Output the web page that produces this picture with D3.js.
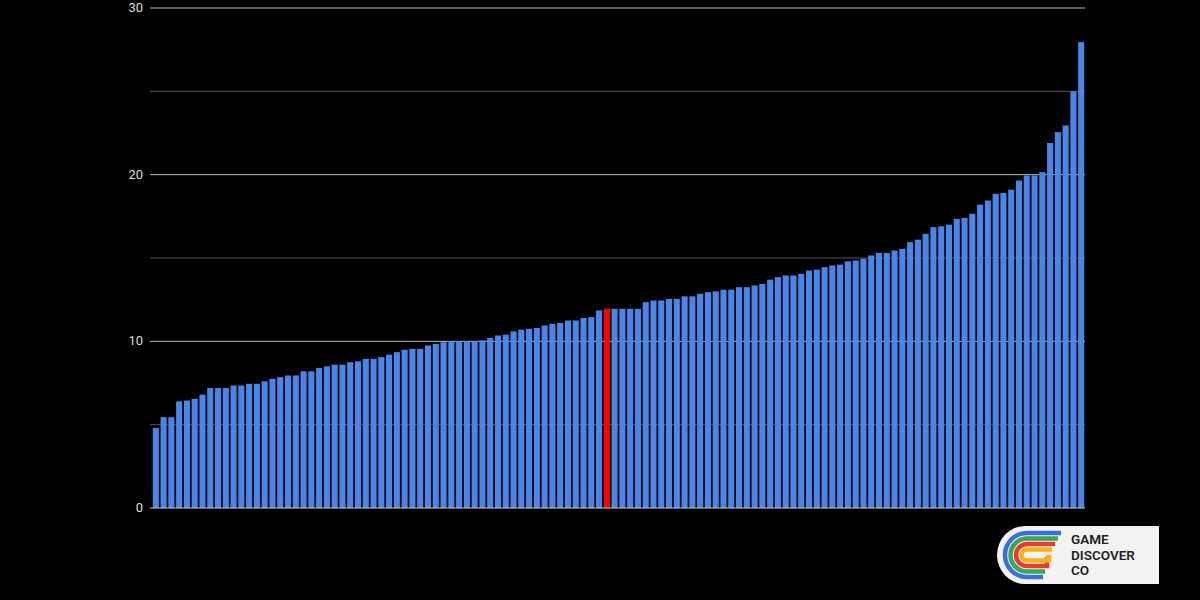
<!DOCTYPE html>
<html>
<head>
<meta charset="utf-8">
<title>Chart</title>
<script src="https://cdn.jsdelivr.net/npm/d3@7"></script>
<style>
  body { margin:0; background:#000; }
  svg { display:block; font-family:Roboto, sans-serif; }
</style>
</head>
<body>
<svg id="chart" width="1200" height="600"></svg>
<script>
// values, sorted ascending; highlighted bar marked below
var values = [
  4.8,5.45,5.45,6.4,6.45,6.55,6.8,7.2,7.2,7.2,7.35,7.35,7.45,7.45,7.6,7.75,7.85,7.95,7.95,8.2,
  8.2,8.4,8.5,8.6,8.6,8.75,8.8,8.95,8.95,9.05,9.2,9.35,9.5,9.55,9.55,9.75,9.85,9.95,10,10,
  10,10,10.05,10.2,10.35,10.4,10.6,10.7,10.75,10.8,10.95,11.05,11.1,11.25,11.25,11.4,11.45,11.85,11.95,11.95,
  11.95,11.95,11.95,12.35,12.45,12.45,12.55,12.55,12.7,12.7,12.85,12.95,13.0,13.1,13.1,13.25,13.25,13.35,13.45,13.7,
  13.85,13.95,13.95,14.05,14.25,14.3,14.45,14.55,14.6,14.8,14.85,14.95,15.15,15.3,15.3,15.45,15.55,15.95,16.1,16.45,
  16.85,16.9,17.0,17.35,17.4,17.65,18.2,18.45,18.85,18.9,19.1,19.65,19.95,19.95,20.15,21.9,22.55,22.95,25.0,27.95
];
var highlightIndex = 58;
var yTicks = [0, 10, 20, 30];
var yMinorTicks = [5, 15, 25];

var svg = d3.select("#chart");
var margin = {left:152, right:1085, top:8, bottom:508};

var x = d3.scaleBand().domain(d3.range(values.length))
    .range([margin.left, margin.right]).paddingInner(0.22).paddingOuter(0.1);
var y = d3.scaleLinear().domain([0, 30]).range([margin.bottom, margin.top]);

// grid
svg.append("g").selectAll("line").data(yMinorTicks).join("line")
    .attr("x1", margin.left - 2).attr("x2", margin.right)
    .attr("y1", d => y(d)).attr("y2", d => y(d))
    .attr("stroke", "#555").attr("stroke-width", 1);
svg.append("g").selectAll("line").data(yTicks.filter(d => d > 0)).join("line")
    .attr("x1", margin.left - 2).attr("x2", margin.right)
    .attr("y1", d => y(d)).attr("y2", d => y(d))
    .attr("stroke", "#bbb").attr("stroke-width", 1);

svg.append("g").selectAll("text").data(yTicks).join("text")
    .attr("x", 143).attr("y", d => y(d) + 4)
    .attr("text-anchor", "end").attr("fill", "#ddd").attr("font-size", 13)
    .text(d => d);

// bars
svg.append("g").selectAll("rect").data(values).join("rect")
    .attr("x", (d, i) => x(i)).attr("width", x.bandwidth())
    .attr("y", d => y(d)).attr("height", d => y(0) - y(d))
    .attr("fill", (d, i) => i === highlightIndex ? "#ff0000" : "#4a86e8");

svg.append("line").attr("x1", margin.left - 2).attr("x2", margin.right)
    .attr("y1", y(0)).attr("y2", y(0)).attr("stroke", "#ccc");

// logo
var logo = svg.append("g").attr("transform", "translate(997,526)");
logo.append("path")
    .attr("d", "M28,0 H162 V58 H28 A28,29 0 0 1 28,0 Z").attr("fill", "#f2f2f2");
var cols = ["#3a6fe0", "#34a853", "#ea3b2e", "#f6b21b"];
cols.forEach(function(c, k) {
  var r = 22 - k * 5.5, cx = 30, cy = 29;
  var yt = cy - r, yb = cy + r;
  var xEnd = 64 - k * 3;
  logo.append("path")
    .attr("d", "M" + xEnd + "," + yt + " H" + cx + " A" + r + "," + r + " 0 0 0 " + cx + "," + yb +
      " H" + (46 + k * 2) + (k >= 2 ? " V" + (cy + 2) + " H" + (52 - k) : ""))
    .attr("fill", "none").attr("stroke", c).attr("stroke-width", 4.5);
});
var lines = ["GAME", "DISCOVER", "CO"];
logo.append("g").selectAll("text").data(lines).join("text")
    .attr("x", 74).attr("y", (d, i) => 18 + i * 15.5)
    .attr("fill", "#222").attr("font-size", 13.5).attr("font-weight", 600)
    .text(d => d);
</script>
</body>
</html>
